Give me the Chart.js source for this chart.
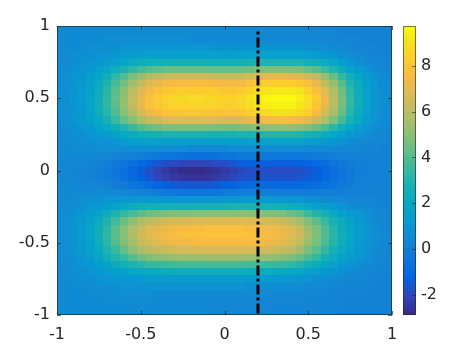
<!DOCTYPE html>
<html>
<head>
<meta charset="utf-8">
<style>
  html, body { margin: 0; padding: 0; background: #fff; }
  canvas { display: block; }
</style>
<script src="https://cdn.jsdelivr.net/npm/chart.js@4.4.1/dist/chart.umd.min.js"></script>
</head>
<body>
<canvas id="heat" width="474" height="355"></canvas>
<script>
// grid coordinates (cell centres)
const gridX = [-1, -0.95, -0.9, -0.85, -0.8, -0.75, -0.7, -0.65, -0.6, -0.55, -0.5, -0.45, -0.4, -0.35, -0.3, -0.25, -0.2, -0.15, -0.1, -0.05,
               0, 0.05, 0.1, 0.15, 0.2, 0.25, 0.3, 0.35, 0.4, 0.45, 0.5, 0.55, 0.6, 0.65, 0.7, 0.75, 0.8, 0.85, 0.9, 0.95, 1];
const gridY = [1, 0.95, 0.9, 0.85, 0.8, 0.75, 0.7, 0.65, 0.6, 0.55, 0.5, 0.45, 0.4, 0.35, 0.3, 0.25, 0.2, 0.15, 0.1, 0.05, 0,
               -0.05, -0.1, -0.15, -0.2, -0.25, -0.3, -0.35, -0.4, -0.45, -0.5, -0.55, -0.6, -0.65, -0.7, -0.75, -0.8, -0.85, -0.9, -0.95, -1];

// field values, one row per gridY entry (top to bottom)
const zRows = [
  [0.6,0.6,0.6,0.6,0.6,0.6,0.6,0.6,0.6,0.6, 0.6,0.6,0.5,0.5,0.5,0.5,0.5,0.5,0.5,0.4, 0.4,0.4,0.4,0.4,0.4,0.4,0.3,0.3,0.3,0.3, 0.3,0.3,0.3,0.3,0.2,0.2,0.2,0.2,0.2,0.2, 0.2],
  [0.6,0.6,0.6,0.6,0.6,0.6,0.6,0.6,0.6,0.6, 0.6,0.6,0.6,0.6,0.6,0.6,0.5,0.5,0.5,0.5, 0.5,0.5,0.5,0.4,0.4,0.4,0.4,0.4,0.4,0.4, 0.3,0.3,0.3,0.3,0.2,0.2,0.2,0.2,0.2,0.2, 0.2],
  [0.6,0.6,0.6,0.6,0.6,0.6,0.7,0.7,0.7,0.7, 0.7,0.7,0.7,0.7,0.7,0.7,0.6,0.6,0.6,0.6, 0.6,0.6,0.6,0.5,0.5,0.5,0.5,0.5,0.5,0.5, 0.4,0.4,0.4,0.4,0.3,0.3,0.3,0.2,0.2,0.2, 0.2],
  [0.6,0.6,0.6,0.6,0.7,0.7,0.8,0.8,0.9,0.9, 0.9,1.0,1.0,1.0,1.0,1.0,1.0,1.0,1.0,0.9, 0.9,0.9,0.9,0.9,0.9,0.9,0.9,0.9,0.9,0.9, 0.8,0.7,0.7,0.6,0.5,0.4,0.3,0.3,0.3,0.2, 0.2],
  [0.6,0.6,0.7,0.7,0.8,0.9,1.0,1.1,1.3,1.4, 1.5,1.6,1.6,1.6,1.6,1.7,1.6,1.6,1.6,1.6, 1.5,1.5,1.6,1.6,1.6,1.6,1.6,1.6,1.6,1.6, 1.5,1.4,1.2,1.1,0.8,0.7,0.5,0.4,0.3,0.3, 0.2],
  [0.6,0.6,0.7,0.8,0.9,1.1,1.4,1.6,1.9,2.2, 2.4,2.6,2.7,2.7,2.8,2.8,2.8,2.8,2.8,2.7, 2.7,2.7,2.7,2.8,2.9,2.9,2.9,2.9,2.9,2.9, 2.7,2.5,2.2,1.9,1.5,1.1,0.8,0.6,0.5,0.3, 0.3],
  [0.6,0.7,0.8,0.9,1.2,1.5,1.9,2.4,2.9,3.3, 3.7,4.0,4.2,4.3,4.4,4.4,4.4,4.4,4.4,4.3, 4.3,4.3,4.4,4.5,4.7,4.8,4.8,4.8,4.8,4.7, 4.4,4.1,3.6,3.0,2.4,1.8,1.3,0.9,0.6,0.4, 0.3],
  [0.6,0.7,0.9,1.1,1.5,2.0,2.5,3.3,4.0,4.7, 5.3,5.8,6.0,6.3,6.4,6.4,6.4,6.4,6.4,6.3, 6.2,6.2,6.3,6.5,6.8,7.0,7.1,7.1,7.0,6.9, 6.5,6.0,5.3,4.4,3.4,2.6,1.9,1.3,0.9,0.6, 0.3],
  [0.6,0.7,0.9,1.2,1.6,2.2,2.9,3.8,4.6,5.5, 6.2,6.8,7.1,7.4,7.5,7.6,7.6,7.6,7.6,7.5, 7.4,7.4,7.5,7.8,8.1,8.3,8.4,8.4,8.3,8.1, 7.7,7.1,6.2,5.2,4.1,3.0,2.2,1.5,1.0,0.6, 0.4],
  [0.7,0.7,0.9,1.3,1.7,2.4,3.2,4.1,5.1,6.0, 6.8,7.4,7.8,8.1,8.2,8.3,8.3,8.3,8.3,8.2, 8.1,8.1,8.2,8.5,8.9,9.1,9.2,9.3,9.2,9.0, 8.5,7.8,6.9,5.7,4.5,3.3,2.4,1.6,1.1,0.7, 0.4],
  [0.7,0.8,1.0,1.3,1.8,2.5,3.3,4.3,5.3,6.3, 7.1,7.8,8.2,8.5,8.7,8.7,8.8,8.8,8.7,8.6, 8.5,8.5,8.7,9.0,9.3,9.6,9.7,9.7,9.7,9.4, 9.0,8.2,7.2,6.0,4.7,3.5,2.5,1.7,1.1,0.7, 0.4],
  [0.7,0.8,0.9,1.3,1.8,2.5,3.3,4.2,5.2,6.2, 7.0,7.7,8.1,8.3,8.5,8.5,8.6,8.6,8.5,8.4, 8.3,8.3,8.5,8.8,9.1,9.4,9.5,9.5,9.5,9.2, 8.8,8.0,7.1,5.9,4.6,3.4,2.5,1.7,1.1,0.7, 0.4],
  [0.7,0.7,0.9,1.2,1.7,2.4,3.1,4.0,4.9,5.8, 6.6,7.2,7.6,7.9,8.0,8.0,8.1,8.1,8.0,7.9, 7.9,7.9,8.0,8.3,8.6,8.8,9.0,9.0,8.9,8.7, 8.3,7.6,6.6,5.5,4.3,3.2,2.3,1.6,1.0,0.7, 0.4],
  [0.6,0.7,0.9,1.2,1.5,2.1,2.7,3.5,4.3,5.0, 5.7,6.2,6.5,6.7,6.9,6.9,6.9,6.9,6.9,6.8, 6.7,6.7,6.8,7.1,7.3,7.5,7.6,7.7,7.6,7.4, 7.0,6.5,5.7,4.7,3.7,2.8,2.0,1.4,0.9,0.6, 0.4],
  [0.6,0.7,0.8,1.0,1.2,1.6,2.0,2.5,3.0,3.5, 4.0,4.3,4.5,4.7,4.7,4.8,4.8,4.8,4.7,4.7, 4.6,4.6,4.7,4.8,5.0,5.1,5.2,5.2,5.2,5.0, 4.8,4.4,3.9,3.2,2.5,1.9,1.4,1.0,0.7,0.5, 0.3],
  [0.6,0.6,0.7,0.8,1.0,1.2,1.4,1.7,2.0,2.3, 2.5,2.7,2.8,2.9,2.9,2.9,2.9,2.9,2.9,2.8, 2.8,2.8,2.9,2.9,3.0,3.1,3.1,3.1,3.1,3.0, 2.8,2.6,2.3,2.0,1.5,1.2,0.9,0.7,0.5,0.4, 0.3],
  [0.6,0.6,0.7,0.7,0.8,0.9,1.0,1.1,1.3,1.4, 1.5,1.6,1.6,1.6,1.6,1.6,1.6,1.6,1.6,1.5, 1.5,1.5,1.6,1.6,1.6,1.7,1.6,1.7,1.6,1.6, 1.5,1.4,1.3,1.1,0.9,0.7,0.5,0.4,0.3,0.3, 0.2],
  [0.6,0.6,0.6,0.6,0.6,0.7,0.7,0.7,0.8,0.8, 0.8,0.8,0.7,0.7,0.7,0.7,0.6,0.6,0.6,0.6, 0.6,0.7,0.7,0.7,0.7,0.7,0.7,0.7,0.7,0.7, 0.6,0.6,0.6,0.5,0.4,0.4,0.3,0.3,0.3,0.2, 0.2],
  [0.5,0.5,0.5,0.5,0.5,0.4,0.4,0.3,0.2,0.1, 0.0,-0.2,-0.3,-0.4,-0.5,-0.6,-0.6,-0.6,-0.6,-0.6, -0.5,-0.4,-0.3,-0.3,-0.2,-0.3,-0.3,-0.3,-0.3,-0.3, -0.3,-0.2,-0.1,0.0,0.1,0.1,0.2,0.2,0.2,0.2, 0.2],
  [0.4,0.4,0.4,0.4,0.3,0.2,0.0,-0.2,-0.4,-0.7, -1.0,-1.3,-1.6,-1.8,-1.9,-2.0,-2.1,-2.1,-2.0,-1.9, -1.8,-1.6,-1.4,-1.3,-1.3,-1.3,-1.4,-1.4,-1.4,-1.3, -1.2,-1.0,-0.8,-0.5,-0.3,-0.1,0.0,0.1,0.1,0.2, 0.2],
  [0.4,0.4,0.35,0.3,0.2,0.05,-0.15,-0.4,-0.7,-1.05, -1.4,-1.8,-2.15,-2.45,-2.65,-2.78,-2.85,-2.85,-2.75,-2.6, -2.4,-2.2,-2.0,-1.85,-1.8,-1.85,-1.9,-1.9,-1.9,-1.8, -1.65,-1.4,-1.1,-0.8,-0.5,-0.25,-0.05,0.05,0.1,0.15, 0.15],
  [0.4,0.4,0.4,0.3,0.2,0.1,-0.1,-0.3,-0.6,-0.9, -1.3,-1.6,-2.0,-2.2,-2.4,-2.5,-2.6,-2.6,-2.5,-2.4, -2.2,-2.0,-1.8,-1.7,-1.6,-1.7,-1.7,-1.7,-1.7,-1.6, -1.5,-1.3,-1.0,-0.7,-0.5,-0.2,0.0,0.1,0.1,0.2, 0.2],
  [0.5,0.5,0.4,0.4,0.4,0.3,0.2,0.0,-0.2,-0.4, -0.6,-0.9,-1.1,-1.3,-1.5,-1.6,-1.6,-1.6,-1.6,-1.5, -1.3,-1.2,-1.0,-0.9,-0.9,-0.9,-1.0,-1.0,-1.0,-1.0, -0.9,-0.8,-0.6,-0.4,-0.2,-0.1,0.1,0.1,0.2,0.2, 0.2],
  [0.5,0.5,0.5,0.5,0.5,0.5,0.5,0.5,0.4,0.3, 0.2,0.1,-0.1,-0.2,-0.3,-0.4,-0.4,-0.4,-0.4,-0.3, -0.2,-0.1,0.0,0.0,0.1,0.0,0.0,-0.1,-0.1,-0.1, -0.1,-0.1,0.0,0.1,0.1,0.2,0.2,0.2,0.2,0.2, 0.2],
  [0.6,0.6,0.6,0.7,0.7,0.8,1.0,1.1,1.2,1.2, 1.2,1.2,1.1,1.1,1.1,1.0,1.0,1.0,1.1,1.1, 1.2,1.2,1.3,1.3,1.3,1.3,1.2,1.1,1.1,1.0, 0.8,0.7,0.6,0.6,0.5,0.4,0.4,0.3,0.3,0.2, 0.2],
  [0.6,0.6,0.7,0.8,1.0,1.3,1.5,1.8,2.1,2.3, 2.5,2.6,2.7,2.7,2.7,2.7,2.7,2.8,2.8,2.8, 2.8,2.9,2.9,2.9,2.9,2.8,2.7,2.7,2.5,2.3, 2.0,1.7,1.5,1.2,1.0,0.8,0.6,0.5,0.4,0.3, 0.2],
  [0.6,0.7,0.8,1.0,1.3,1.8,2.3,2.9,3.4,3.8, 4.2,4.5,4.6,4.7,4.8,4.9,4.9,4.9,5.0,5.0, 5.0,5.0,5.1,5.0,5.0,4.9,4.8,4.7,4.4,4.1, 3.6,3.1,2.6,2.1,1.6,1.3,1.0,0.7,0.5,0.4, 0.3],
  [0.6,0.7,0.9,1.2,1.6,2.2,2.9,3.7,4.4,5.1, 5.7,6.0,6.3,6.4,6.6,6.6,6.7,6.8,6.8,6.8, 6.8,6.8,6.9,6.8,6.8,6.6,6.5,6.3,6.0,5.5, 4.8,4.2,3.5,2.8,2.2,1.7,1.2,0.9,0.6,0.4, 0.3],
  [0.6,0.7,0.9,1.3,1.8,2.5,3.2,4.1,4.9,5.7, 6.3,6.8,7.0,7.2,7.4,7.5,7.6,7.6,7.7,7.7, 7.7,7.7,7.7,7.6,7.6,7.4,7.3,7.1,6.8,6.2, 5.4,4.7,3.9,3.1,2.4,1.9,1.4,1.0,0.7,0.4, 0.3],
  [0.6,0.7,0.9,1.3,1.8,2.5,3.3,4.2,5.0,5.8, 6.5,6.9,7.2,7.4,7.6,7.7,7.8,7.8,7.9,7.9, 7.9,7.9,7.9,7.8,7.8,7.6,7.5,7.3,6.9,6.4, 5.6,4.8,4.0,3.2,2.5,1.9,1.4,1.0,0.7,0.5, 0.3],
  [0.6,0.7,0.9,1.3,1.7,2.4,3.2,4.0,4.8,5.5, 6.2,6.6,6.9,7.1,7.3,7.3,7.4,7.5,7.5,7.5, 7.5,7.5,7.5,7.5,7.4,7.3,7.1,7.0,6.6,6.1, 5.3,4.6,3.8,3.1,2.4,1.8,1.3,1.0,0.7,0.4, 0.3],
  [0.6,0.7,0.9,1.2,1.6,2.2,2.9,3.6,4.3,5.0, 5.6,5.9,6.2,6.3,6.5,6.6,6.6,6.7,6.7,6.7, 6.7,6.7,6.7,6.7,6.6,6.5,6.4,6.2,5.9,5.4, 4.7,4.1,3.4,2.7,2.1,1.6,1.2,0.9,0.6,0.4, 0.3],
  [0.6,0.7,0.8,1.1,1.4,1.9,2.4,3.0,3.5,4.0, 4.5,4.8,5.0,5.1,5.2,5.3,5.3,5.3,5.4,5.4, 5.4,5.4,5.4,5.3,5.3,5.2,5.1,4.9,4.7,4.3, 3.8,3.3,2.7,2.2,1.7,1.3,1.0,0.7,0.5,0.4, 0.3],
  [0.6,0.7,0.8,0.9,1.1,1.5,1.8,2.2,2.6,2.9, 3.2,3.4,3.5,3.6,3.7,3.7,3.8,3.8,3.8,3.8, 3.8,3.8,3.8,3.7,3.7,3.6,3.5,3.5,3.3,3.1, 2.7,2.3,1.9,1.6,1.2,1.0,0.7,0.6,0.4,0.3, 0.3],
  [0.6,0.6,0.7,0.8,0.9,1.1,1.3,1.5,1.7,1.9, 2.1,2.2,2.3,2.3,2.4,2.4,2.4,2.4,2.4,2.4, 2.4,2.4,2.4,2.3,2.3,2.3,2.2,2.1,2.0,1.9, 1.6,1.4,1.2,1.0,0.8,0.6,0.5,0.4,0.3,0.3, 0.2],
  [0.6,0.6,0.7,0.7,0.8,0.9,1.0,1.1,1.2,1.2, 1.3,1.4,1.4,1.4,1.4,1.4,1.4,1.4,1.4,1.4, 1.4,1.4,1.4,1.3,1.3,1.3,1.2,1.2,1.2,1.1, 1.0,0.8,0.7,0.6,0.5,0.4,0.4,0.3,0.3,0.2, 0.2],
  [0.6,0.6,0.6,0.6,0.7,0.7,0.8,0.8,0.9,0.9, 0.9,0.9,0.9,0.9,0.9,0.9,0.9,0.9,0.9,0.9, 0.9,0.9,0.9,0.8,0.8,0.8,0.7,0.7,0.7,0.7, 0.6,0.5,0.5,0.4,0.3,0.3,0.3,0.3,0.2,0.2, 0.2],
  [0.6,0.6,0.6,0.6,0.6,0.6,0.7,0.7,0.7,0.7, 0.7,0.7,0.6,0.6,0.6,0.6,0.6,0.6,0.6,0.6, 0.6,0.6,0.6,0.5,0.5,0.5,0.4,0.4,0.4,0.4, 0.4,0.3,0.3,0.3,0.3,0.2,0.2,0.2,0.2,0.2, 0.2],
  [0.6,0.6,0.6,0.6,0.6,0.6,0.6,0.6,0.6,0.6, 0.6,0.6,0.6,0.6,0.6,0.6,0.5,0.5,0.5,0.5, 0.5,0.5,0.5,0.4,0.4,0.4,0.4,0.4,0.4,0.4, 0.3,0.3,0.3,0.3,0.2,0.2,0.2,0.2,0.2,0.2, 0.2],
  [0.6,0.6,0.6,0.6,0.6,0.6,0.6,0.6,0.6,0.6, 0.6,0.6,0.5,0.5,0.5,0.5,0.5,0.5,0.5,0.4, 0.4,0.4,0.4,0.4,0.4,0.4,0.3,0.3,0.3,0.3, 0.3,0.3,0.3,0.3,0.2,0.2,0.2,0.2,0.2,0.2, 0.2],
  [0.6,0.6,0.6,0.6,0.6,0.6,0.6,0.6,0.6,0.6, 0.6,0.6,0.5,0.5,0.5,0.5,0.5,0.5,0.5,0.4, 0.4,0.4,0.4,0.4,0.4,0.4,0.3,0.3,0.3,0.3, 0.3,0.3,0.3,0.3,0.2,0.2,0.2,0.2,0.2,0.2, 0.2]
];

// dash-dot marker line
const lineX = [0.2, 0.2];
const lineY = [-0.99, 0.97];

// ticks and colour limits
const xTicks = [-1, -0.5, 0, 0.5, 1];
const yTicks = [-1, -0.5, 0, 0.5, 1];
const cbTicks = [-2, 0, 2, 4, 6, 8];
const cbMin = -2.87, cbMax = 9.73;

// parula, sampled every 4th of 64 entries
const parulaStops = [
  [0, 0.2081, 0.1663, 0.5292], [4, 0.1959, 0.2645, 0.7279], [8, 0.0117, 0.3875, 0.8820],
  [12, 0.0498, 0.4586, 0.8641], [16, 0.0793, 0.5200, 0.8312], [20, 0.0343, 0.5966, 0.8199],
  [24, 0.0228, 0.6535, 0.7768], [28, 0.0843, 0.6928, 0.7062], [32, 0.2178, 0.7250, 0.6193],
  [36, 0.3953, 0.7459, 0.5244], [40, 0.5709, 0.7485, 0.4494], [44, 0.7184, 0.7411, 0.3905],
  [48, 0.8507, 0.7299, 0.3360], [52, 0.9739, 0.7314, 0.2666], [56, 0.9880, 0.8066, 0.1794],
  [60, 0.9588, 0.8949, 0.1132], [63, 0.9763, 0.9831, 0.0538]
];

function parula(v) {
  let t = (v - cbMin) / (cbMax - cbMin);
  t = Math.max(0, Math.min(1, t)) * 63;
  let i = 0;
  while (i < parulaStops.length - 2 && parulaStops[i + 1][0] < t) i++;
  const a = parulaStops[i], b = parulaStops[i + 1];
  const f = (t - a[0]) / (b[0] - a[0]);
  const c = [1, 2, 3].map(k => Math.round(255 * (a[k] + (b[k] - a[k]) * f)));
  return 'rgb(' + c.join(',') + ')';
}

const cells = [];
gridY.forEach((y, j) => gridX.forEach((x, i) => cells.push({ x: x, y: y, v: zRows[j][i] })));

const dx = 0.05, dy = 0.05;
const ink = '#262626';

const heatPlugin = {
  id: 'heat',
  beforeDatasetsDraw(chart) {
    const { ctx, chartArea: a, scales } = chart;
    const xs = scales.x, ys = scales.y, cs = scales.cb;
    ctx.save();
    ctx.beginPath();
    ctx.rect(a.left, a.top, a.right - a.left, a.bottom - a.top);
    ctx.clip();
    for (const p of chart.data.datasets[0].data) {
      if (p.v === undefined) continue;
      const l = Math.round(xs.getPixelForValue(p.x - dx / 2));
      const r = Math.round(xs.getPixelForValue(p.x + dx / 2));
      const t = Math.round(ys.getPixelForValue(p.y + dy / 2));
      const b = Math.round(ys.getPixelForValue(p.y - dy / 2));
      ctx.fillStyle = parula(p.v);
      ctx.fillRect(l, t, r - l, b - t);
    }
    ctx.restore();

    // colour bar
    const cl = cs.left + 11, cw = 13;
    const top = Math.round(cs.getPixelForValue(cbMax));
    const bot = Math.round(cs.getPixelForValue(cbMin));
    for (let py = top; py < bot; py++) {
      ctx.fillStyle = parula(cs.getValueForPixel(py + 0.5));
      ctx.fillRect(cl, py, cw, 1);
    }
    ctx.save();
    ctx.strokeStyle = 'rgba(38,38,38,0.6)';
    ctx.lineWidth = 1;
    ctx.strokeRect(cl + 0.5, top + 0.5, cw - 1, bot - top - 1);
    ctx.beginPath();
    for (const v of cbTicks) {
      const py = Math.round(cs.getPixelForValue(v)) + 0.5;
      ctx.moveTo(cl + cw - 4, py);
      ctx.lineTo(cl + cw, py);
    }
    ctx.stroke();
    ctx.restore();
  },
  afterDatasetsDraw(chart) {
    const { ctx, chartArea: a, scales } = chart;
    ctx.save();
    ctx.strokeStyle = 'rgba(38,38,38,0.7)';
    ctx.lineWidth = 1;
    ctx.strokeRect(a.left + 0.5, a.top + 0.5, a.right - a.left - 1, a.bottom - a.top - 1);
    ctx.beginPath();
    for (const v of xTicks) {
      const px = Math.round(scales.x.getPixelForValue(v)) + 0.5;
      ctx.moveTo(px, a.bottom); ctx.lineTo(px, a.bottom - 4);
      ctx.moveTo(px, a.top); ctx.lineTo(px, a.top + 4);
    }
    for (const v of yTicks) {
      const py = Math.round(scales.y.getPixelForValue(v)) + 0.5;
      ctx.moveTo(a.left, py); ctx.lineTo(a.left + 4, py);
      ctx.moveTo(a.right, py); ctx.lineTo(a.right - 4, py);
    }
    ctx.stroke();
    ctx.restore();
  }
};

const font = { family: 'DejaVu Sans', size: 16 };
const label = v => String(v);

new Chart(document.getElementById('heat'), {
  type: 'scatter',
  data: {
    datasets: [
      { label: 'field', data: cells, pointRadius: 0, pointHoverRadius: 0 },
      {
        label: 'cut',
        data: lineX.map((x, i) => ({ x: x, y: lineY[i] })),
        showLine: true,
        borderColor: '#000',
        borderWidth: 3,
        borderDash: [10, 3, 3, 3],
        pointRadius: 0
      }
    ]
  },
  plugins: [heatPlugin],
  options: {
    responsive: false,
    animation: false,
    devicePixelRatio: 1,
    layout: { padding: { top: 26, right: 0, left: 0, bottom: 0 } },
    plugins: { legend: { display: false }, tooltip: { enabled: false } },
    scales: {
      x: {
        type: 'linear', min: -1, max: 1,
        grid: { display: false, drawTicks: false }, border: { display: false },
        afterBuildTicks: s => { s.ticks = xTicks.map(v => ({ value: v })); },
        afterFit: s => { s.height = 40; s.paddingLeft = 0; s.paddingRight = 0; },
        ticks: { color: ink, font: font, padding: 10, maxRotation: 0, autoSkip: false, callback: label }
      },
      y: {
        type: 'linear', min: -1, max: 1, position: 'left',
        grid: { display: false, drawTicks: false }, border: { display: false },
        afterBuildTicks: s => { s.ticks = yTicks.map(v => ({ value: v })); },
        afterFit: s => { s.width = 57; s.paddingTop = 0; s.paddingBottom = 0; },
        ticks: { color: ink, font: font, padding: 7, autoSkip: false, callback: label }
      },
      cb: {
        type: 'linear', min: cbMin, max: cbMax, position: 'right',
        grid: { display: false, drawTicks: false }, border: { display: false },
        afterBuildTicks: s => { s.ticks = cbTicks.map(v => ({ value: v })); },
        afterFit: s => { s.width = 82; s.paddingTop = 0; s.paddingBottom = 0; },
        ticks: { color: ink, font: font, padding: 29, autoSkip: false, callback: label }
      }
    }
  }
});
</script>
</body>
</html>
